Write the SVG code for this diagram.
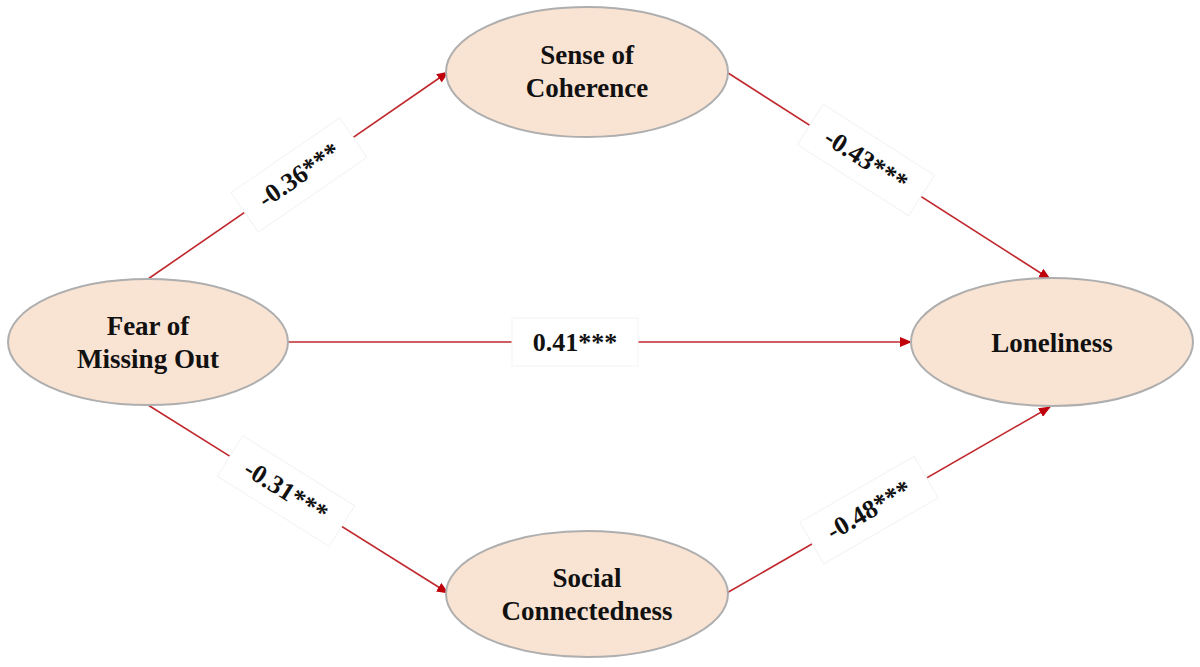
<svg xmlns="http://www.w3.org/2000/svg" width="1200" height="667" viewBox="0 0 1200 667">
<style>
.node{fill:#F9E3D3;stroke:#AEAEAE;stroke-width:2}
.lbl{font-family:"Liberation Serif","Times New Roman",serif;font-weight:bold;font-size:27px;fill:#111;text-anchor:middle}
.edge{stroke:#C0282D;stroke-width:1.6;fill:none}
.box{fill:#fff;stroke:#F3F3F3;stroke-width:1}
.coef{font-family:"Liberation Serif","Times New Roman",serif;font-weight:bold;font-size:26px;fill:#111;text-anchor:middle;dominant-baseline:central}
</style>
<defs>
<marker id="arr" markerUnits="userSpaceOnUse" markerWidth="12" markerHeight="10" refX="11" refY="5" orient="auto">
<path d="M0,0 L12,5 L0,10 z" fill="#C0000A"/>
</marker>
</defs>
<rect width="1200" height="667" fill="#fff"/>
<g id="connectors">
<line class="edge" x1="148" y1="279" x2="448" y2="72" marker-end="url(#arr)"/>
<line class="edge" x1="725" y1="71" x2="1050" y2="279" marker-end="url(#arr)"/>
<line class="edge" x1="287" y1="342" x2="911" y2="342" marker-end="url(#arr)"/>
<line class="edge" x1="148" y1="405" x2="448" y2="593" marker-end="url(#arr)"/>
<line class="edge" x1="725" y1="594" x2="1050" y2="407" marker-end="url(#arr)"/>
<g transform="translate(299,175) rotate(-34.6)">
<rect class="box" x="-66" y="-24" width="132" height="48"/>
<text class="coef" x="0" y="0">-0.36***</text>
</g>
<g transform="translate(866,160) rotate(32.6)">
<rect class="box" x="-66" y="-24" width="132" height="48"/>
<text class="coef" x="0" y="0">-0.43***</text>
</g>
<g transform="translate(575,342)">
<rect class="box" x="-63" y="-24" width="126" height="48"/>
<text class="coef" x="0" y="0">0.41***</text>
</g>
<g transform="translate(286,491) rotate(32.1)">
<rect class="box" x="-66" y="-24" width="132" height="48"/>
<text class="coef" x="0" y="0">-0.31***</text>
</g>
<g transform="translate(869,510) rotate(-29.9)">
<rect class="box" x="-66" y="-24" width="132" height="48"/>
<text class="coef" x="0" y="0">-0.48***</text>
</g>
</g>
<g id="fomo">
<ellipse class="node" cx="148" cy="342" rx="140" ry="63"/>
<text class="lbl" x="148" y="335">Fear of</text>
<text class="lbl" x="148" y="368">Missing Out</text>
</g>
<g id="soc">
<ellipse class="node" cx="587" cy="72" rx="141" ry="65"/>
<text class="lbl" x="587" y="64">Sense of</text>
<text class="lbl" x="587" y="97">Coherence</text>
</g>
<g id="lonely">
<ellipse class="node" cx="1052" cy="342" rx="141" ry="64"/>
<text class="lbl" x="1052" y="352">Loneliness</text>
</g>
<g id="sc">
<ellipse class="node" cx="587" cy="594" rx="141" ry="63"/>
<text class="lbl" x="587" y="587">Social</text>
<text class="lbl" x="587" y="620">Connectedness</text>
</g>
</svg>
